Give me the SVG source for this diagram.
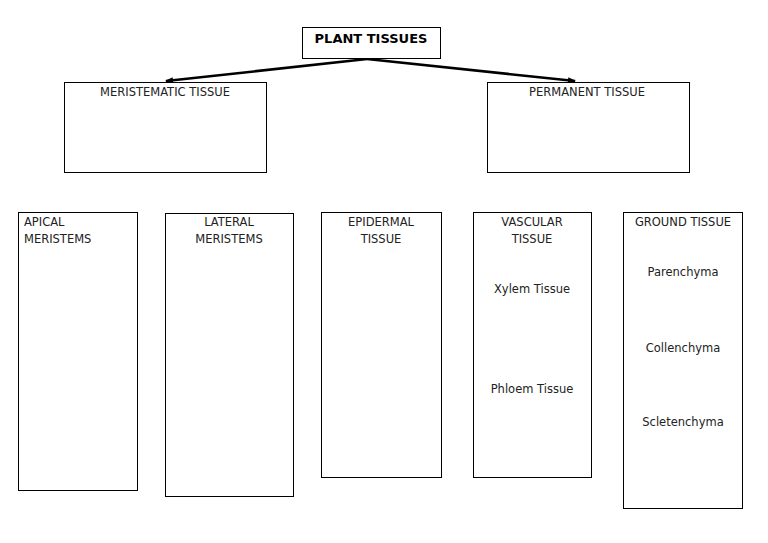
<svg xmlns="http://www.w3.org/2000/svg" width="768" height="543" viewBox="0 0 768 543">
<style>
rect{fill:#fff;stroke:#000;stroke-width:1}
text{font-family:"DejaVu Sans",sans-serif;font-size:11.5px;fill:#222}
.c{text-anchor:middle}
</style>
<defs><marker id="a" markerWidth="8" markerHeight="6" refX="7" refY="3" orient="auto" markerUnits="userSpaceOnUse"><path d="M0,0L8,3L0,6z" fill="#000"/></marker></defs>
<rect width="768" height="543" style="stroke:none"/>
<g id="connectors" stroke="#000" stroke-width="2.5" fill="none">
<line x1="367" y1="59" x2="166" y2="81" marker-end="url(#a)"/>
<line x1="367" y1="59" x2="575" y2="81" marker-end="url(#a)"/>
</g>
<g id="plant"><rect x="302.5" y="27.5" width="138" height="31"/><text x="371" y="43" class="c" style="font-weight:bold;font-size:13px;fill:#000">PLANT TISSUES</text></g>
<g id="meri"><rect x="64.5" y="82.5" width="202" height="90"/><text x="165" y="96" class="c">MERISTEMATIC TISSUE</text></g>
<g id="perm"><rect x="487.5" y="82.5" width="202" height="90"/><text x="587" y="96" class="c">PERMANENT TISSUE</text></g>
<g id="apical"><rect x="18.5" y="212.5" width="119" height="278"/><text x="24" y="226">APICAL</text><text x="24" y="243">MERISTEMS</text></g>
<g id="lateral"><rect x="165.5" y="213.5" width="128" height="283"/><text x="229" y="226" class="c">LATERAL</text><text x="229" y="243" class="c">MERISTEMS</text></g>
<g id="epi"><rect x="321.5" y="212.5" width="120" height="265"/><text x="381" y="226" class="c">EPIDERMAL</text><text x="381" y="243" class="c">TISSUE</text></g>
<g id="vasc"><rect x="473.5" y="212.5" width="118" height="265"/><text x="532" y="226" class="c">VASCULAR</text><text x="532" y="243" class="c">TISSUE</text><text x="532" y="293" class="c">Xylem Tissue</text><text x="532" y="393" class="c">Phloem Tissue</text></g>
<g id="ground"><rect x="623.5" y="212.5" width="119" height="296"/><text x="683" y="226" class="c">GROUND TISSUE</text><text x="683" y="276" class="c">Parenchyma</text><text x="683" y="352" class="c">Collenchyma</text><text x="683" y="426" class="c">Scletenchyma</text></g>
</svg>
